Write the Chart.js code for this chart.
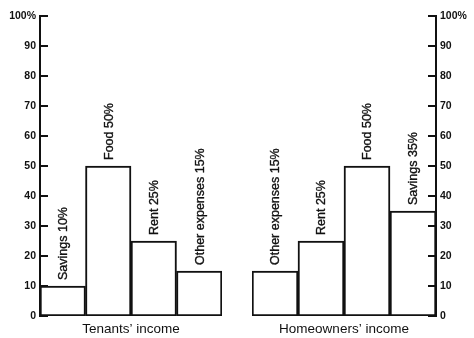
<!DOCTYPE html>
<html>
<head>
<meta charset="utf-8">
<script src="https://cdn.jsdelivr.net/npm/chart.js@4.4.1/dist/chart.umd.min.js"></script>
<style>
  html, body { margin: 0; padding: 0; background: #fff; }
  #wrap { position: relative; width: 474px; height: 338px; }
  .box { position: absolute; top: 0; height: 338px; }
  #left { left: 0; width: 234px; }
  #right { left: 234px; width: 240px; }
</style>
</head>
<body>
<div id="wrap">
  <div class="box" id="left"><canvas id="tenantsChart" width="234" height="338"></canvas></div>
  <div class="box" id="right"><canvas id="ownersChart" width="240" height="338"></canvas></div>
</div>
<script>
const tenantCategories = ['Savings', 'Food', 'Rent', 'Other expenses'];
const tenantShares = [10, 50, 25, 15];
const ownerCategories = ['Other expenses', 'Rent', 'Food', 'Savings'];
const ownerShares = [15, 25, 50, 35];
const shareMax = 100;
const shareStep = 10;

const ink = '#111';
const fontFamily = '"Liberation Sans", Arial, Helvetica, sans-serif';

// rotated "Name NN%" text sitting just above each bar
const barLabels = {
    id: 'barLabels',
    afterDatasetsDraw(chart) {
        const ctx = chart.ctx;
        const meta = chart.getDatasetMeta(0);
        const values = chart.data.datasets[0].data;
        ctx.save();
        ctx.font = '12.5px ' + fontFamily;
        ctx.fillStyle = ink;
        ctx.strokeStyle = ink;
        ctx.lineWidth = 0.35;
        ctx.textAlign = 'left';
        ctx.textBaseline = 'middle';
        meta.data.forEach((bar, i) => {
            const text = chart.data.labels[i] + ' ' + values[i] + '%';
            ctx.save();
            ctx.translate(bar.x + 1, bar.y - 6);
            ctx.rotate(-Math.PI / 2);
            ctx.fillText(text, 0, 0);
            ctx.strokeText(text, 0, 0);
            ctx.restore();
        });
        ctx.restore();
    }
};

// short tick marks pointing into the plot instead of outwards
const innerTicks = {
    id: 'innerTicks',
    afterDraw(chart) {
        const y = chart.scales.y;
        const ctx = chart.ctx;
        const onRight = y.position === 'right';
        const x0 = onRight ? y.left : y.right;
        const dir = onRight ? -1 : 1;
        ctx.save();
        ctx.strokeStyle = ink;
        ctx.lineWidth = 2;
        y.ticks.forEach(t => {
            const py = Math.round(y.getPixelForValue(t.value));
            ctx.beginPath();
            ctx.moveTo(x0, py);
            ctx.lineTo(x0 + dir * 8, py);
            ctx.stroke();
        });
        ctx.restore();
    }
};

function makeChart(id, labels, data, title, side, padding, axisWidth) {
    return new Chart(document.getElementById(id), {
        type: 'bar',
        data: {
            labels: labels,
            datasets: [{
                data: data,
                backgroundColor: '#fff',
                borderColor: ink,
                borderWidth: 2,
                borderSkipped: false,
                barPercentage: 1,
                categoryPercentage: 1
            }]
        },
        options: {
            responsive: false,
            animation: false,
            layout: { padding: padding },
            plugins: {
                legend: { display: false },
                tooltip: { enabled: false }
            },
            scales: {
                x: {
                    grid: { display: false },
                    border: { display: false },
                    ticks: { display: false },
                    title: {
                        display: true,
                        text: title,
                        color: ink,
                        font: { family: fontFamily, size: 13.5 },
                        padding: { top: 0, bottom: 1 }
                    },
                    afterFit: s => { s.height = 22; }
                },
                y: {
                    position: side,
                    min: 0,
                    max: shareMax,
                    grid: { display: false, drawTicks: false },
                    border: { display: true, color: ink, width: 2 },
                    ticks: {
                        stepSize: shareStep,
                        padding: 4,
                        color: ink,
                        font: { family: fontFamily, size: 10.5, weight: 'bold' },
                        callback: v => v === shareMax ? v + '%' : v
                    },
                    afterFit: s => { s.width = axisWidth; }
                }
            }
        },
        plugins: [barLabels, innerTicks]
    });
}

const tenantsChart = makeChart('tenantsChart', tenantCategories, tenantShares,
    'Tenants\u2019 income', 'left', { top: 16, right: 12, left: 0, bottom: 0 }, 40);
const ownersChart = makeChart('ownersChart', ownerCategories, ownerShares,
    'Homeowners\u2019 income', 'right', { top: 16, right: 0, left: 18, bottom: 0 }, 38);
</script>
</body>
</html>
